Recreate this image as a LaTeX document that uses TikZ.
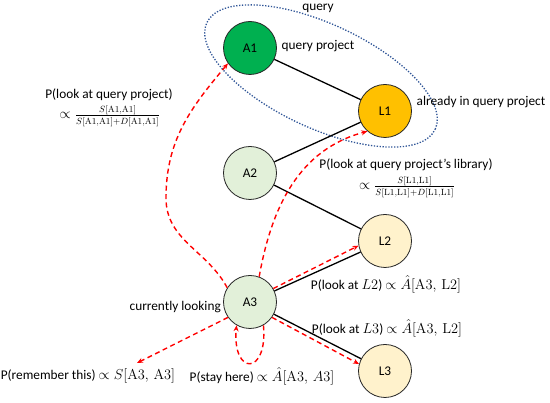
\documentclass[tikz,border=0pt]{standalone}
\usepackage[no-math]{fontspec}
\setmainfont{Carlito}
\usetikzlibrary{arrows.meta}
\definecolor{darkgreen}{RGB}{0,176,80}
\definecolor{gold}{RGB}{255,192,0}
\definecolor{lightgreen}{RGB}{226,240,217}
\definecolor{lightyellow}{RGB}{255,242,204}
\definecolor{dotblue}{RGB}{47,85,151}
\begin{document}
\begin{tikzpicture}[x=1pt,y=1pt,
  every node/.style={font=\fontsize{13.3}{15}\selectfont, inner sep=0pt},
  vtx/.style={circle, draw=black!85, line width=0.8pt, minimum size=53pt},
  edgeline/.style={line width=1.3pt},
  redarr/.style={red, line width=1.4pt, dash pattern=on 5pt off 3.5pt, -{Stealth[length=6pt,width=5pt]}},
  querybox/.style={dotblue, line width=1.3pt, dash pattern=on 1.3pt off 1.6pt}]
\useasboundingbox (0,0) rectangle (550,403);
% query ellipse
\draw[querybox, rotate around={-25:(321,327)}] (321,327) ellipse [x radius=126, y radius=52];
% vertices
\node[vtx, fill=darkgreen] (A1) at (250,355) {A1};
\node[vtx, fill=gold] (L1) at (385,292) {L1};
\node[vtx, fill=lightgreen] (A2) at (250,230) {A2};
\node[vtx, fill=lightyellow] (L2) at (385,162) {L2};
\node[vtx, fill=lightgreen] (A3) at (250,101) {A3};
\node[vtx, fill=lightyellow] (L3) at (385,32) {L3};
% edges
\draw[edgeline] (A1) -- (L1);
\draw[edgeline] (A2) -- (L1);
\draw[edgeline] (A2) -- (L2);
\draw[edgeline] (A3) -- (L2);
\draw[edgeline] (A3) -- (L3);
% text labels
\node (tquery) at (318,395) {query};
\node (tqp) at (318,357) {query project};
\node (talready) at (481,301) {already in query project};
\node (tlookqp) at (109,308) {P(look at query project)};
\node (tfrac1) at (110,287) {$\propto\frac{S[\mathrm{A1,A1}]}{S[\mathrm{A1,A1}]+\tilde{D}[\mathrm{A1,A1}]}$};
\node (tlooklib) at (406,238) {P(look at query project’s library)};
\node (tfrac2) at (407,216) {$\propto\frac{S[\mathrm{L1,L1}]}{S[\mathrm{L1,L1}]+\tilde{D}[\mathrm{L1,L1}]}$};
\node (tlookL2) at (386,119) {P(look at $L2$) $\propto\hat{A}[\mathrm{A3,\,L2}]$};
\node (tlookL3) at (387,75) {P(look at $L3$) $\propto\hat{A}[\mathrm{A3,\,L2}]$};
\node[anchor=east] (tcur) at (221,96) {currently looking};
\node (tremember) at (88,27) {P(remember this) $\propto S[\mathrm{A3,\,A3}]$};
\node (tstay) at (262,27) {P(stay here) $\propto\hat{A}[\mathrm{A3},\,A3]$};
% red arrows
\coordinate (leftmid) at (166,205);
\coordinate (remtip) at (137,40);
\draw[redarr] (A3.148) to[out=118,in=-90] (leftmid) to[out=90,in=230] (A1.215);
\draw[redarr] (A3.70) to[out=80,in=195] (L1.229);
\draw[redarr] (A3.30) -- (L2.190);
\draw[redarr] (A3.-35) -- (L3.165);
\draw[redarr] (A3.215) -- (remtip);
\draw[redarr] (A3.-60) .. controls (268,27) and (232,27) .. (A3.-120);
\end{tikzpicture}
\end{document}
